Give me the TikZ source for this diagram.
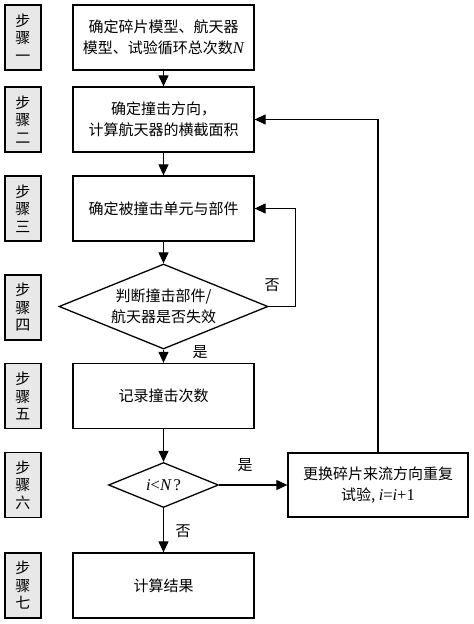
\documentclass[tikz,border=0pt]{standalone}
\usepackage{fontspec}
\setmainfont{Noto Sans CJK SC}
\newfontfamily\lat[Scale=1.1]{Liberation Serif}
\usetikzlibrary{shapes.geometric,arrows.meta}
\newcommand{\vi}[1]{{\lat\itshape #1}}
\begin{document}
\begin{tikzpicture}[x=1pt,y=-1pt,
  stepbox/.style={draw, fill=gray!18, line width=1.2pt, minimum width=36pt, minimum height=65pt, inner sep=0, align=center, font=\fontsize{15}{17.5}\selectfont},
  procbox/.style={draw, line width=1.3pt, minimum width=181pt, minimum height=65pt, inner sep=0, align=center, font=\fontsize{15}{20.5}\selectfont},
  dec/.style={diamond, draw, line width=1.3pt, inner sep=0},
  dectext/.style={align=center, font=\fontsize{15}{20.5}\selectfont},
  arr/.style={line width=1.2pt, -{Triangle[length=11pt,width=10pt]}},
  lbl/.style={font=\fontsize{15}{18}\selectfont}]
\useasboundingbox (0,0) rectangle (474,624);
% step labels
\node[stepbox] (s1) at (23,37.5) {步\\骤\\一};
\node[stepbox] (s2) at (23,119.5) {步\\骤\\二};
\node[stepbox] (s3) at (23,208.5) {步\\骤\\三};
\node[stepbox] (s4) at (23,307.5) {步\\骤\\四};
\node[stepbox] (s5) at (23,396) {步\\骤\\五};
\node[stepbox] (s6) at (23,485) {步\\骤\\六};
\node[stepbox] (s7) at (23,585.5) {步\\骤\\七};
% main column
\node[procbox] (b1) at (163.5,37.5) {确定碎片模型、航天器\\模型、试验循环总次数\vi{N}};
\node[procbox] (b2) at (163.5,119.5) {确定撞击方向，\\计算航天器的横截面积};
\node[procbox] (b3) at (163.5,208.5) {确定被撞击单元与部件};
\node[dec, minimum width=209pt, minimum height=85pt] (d4) at (163.5,306.5) {};
\node[dectext] (t4) at (d4) {判断撞击部件/\\航天器是否失效};
\node[procbox] (b5) at (163.5,396) {记录撞击次数};
\node[dec, minimum width=110pt, minimum height=45pt] (d6) at (163.5,485) {};
\node[dectext] (t6) at (d6) {\vi{i}{\lat<}\vi{N}\,{\lat ?}};
\node[procbox] (b7) at (163.5,585.5) {计算结果};
\node[procbox, minimum width=180pt, minimum height=64pt] (rb) at (378,485) {更换碎片来流方向重复\\试验, \vi{i}{\lat =}\vi{i}{\lat +1}};
% connectors
\draw[arr] (b1.south) -- (b2.north);
\draw[arr] (b2.south) -- (b3.north);
\draw[arr] (b3.south) -- (d4.north);
\draw[arr] (d4.south) -- (b5.north);
\draw[arr] (b5.south) -- (d6.north);
\draw[arr] (d6.south) -- (b7.north);
\draw[arr] (d6.east) -- (rb.west);
\draw[arr] (d4.east) -- ++(27,0) |- (b3.east);
\draw[arr] (rb.north) |- (b2.east);
% labels
\node[lbl] (n1) at (272,285) {否};
\node[lbl] (y1) at (200,352) {是};
\node[lbl] (y2) at (245,465) {是};
\node[lbl] (n2) at (183,531) {否};
\end{tikzpicture}
\end{document}
